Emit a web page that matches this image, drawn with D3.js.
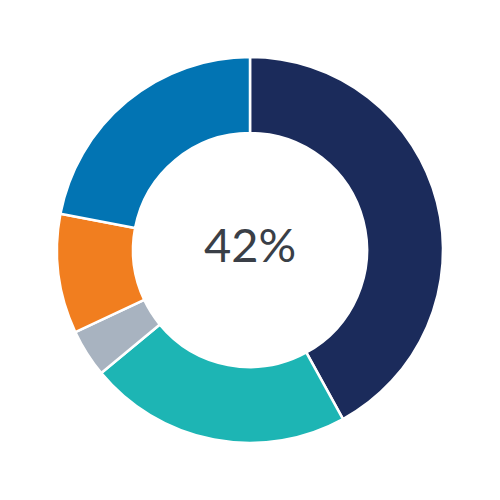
<!DOCTYPE html>
<html>
<head>
<meta charset="utf-8">
<script src="https://cdn.jsdelivr.net/npm/d3@7"></script>
<style>
  body { margin: 0; background: #fff; }
</style>
</head>
<body>
<div id="chart"></div>
<script>
const categories = ['A', 'B', 'C', 'D', 'E'];
const values = [42, 22, 4, 10, 22];
const colors = ['#1b2b5b', '#1db5b4', '#a8b3c0', '#f17e1f', '#0274b3'];
const center_label = '42%';

const chart_width = 500;
const chart_height = 500;
const outer_radius = 193;
const inner_radius = 117;

const svg = d3.select('#chart')
    .append('svg')
    .attr('width', chart_width)
    .attr('height', chart_height);

const g = svg.append('g')
    .attr('transform', `translate(${chart_width / 2},${chart_height / 2})`);

const color_scale = d3.scaleOrdinal()
    .domain(categories)
    .range(colors);

// keep data order, clockwise from 12 o'clock
const pie = d3.pie()
    .sort(null)
    .value(d => d.value);

const arc = d3.arc()
    .innerRadius(inner_radius)
    .outerRadius(outer_radius);

const slices = categories.map((c, i) => ({ name: c, value: values[i] }));

g.selectAll('path')
    .data(pie(slices))
    .enter()
    .append('path')
    .attr('d', arc)
    .attr('fill', d => color_scale(d.data.name))
    .attr('stroke', '#fff')
    .attr('stroke-width', 2.5);

g.append('text')
    .text(center_label)
    .attr('text-anchor', 'middle')
    .attr('dy', '0.35em')
    .attr('y', -4)
    .attr('font-family', 'Lato, sans-serif')
    .attr('font-size', 47)
    .attr('fill', '#3a3f47');
</script>
</body>
</html>
